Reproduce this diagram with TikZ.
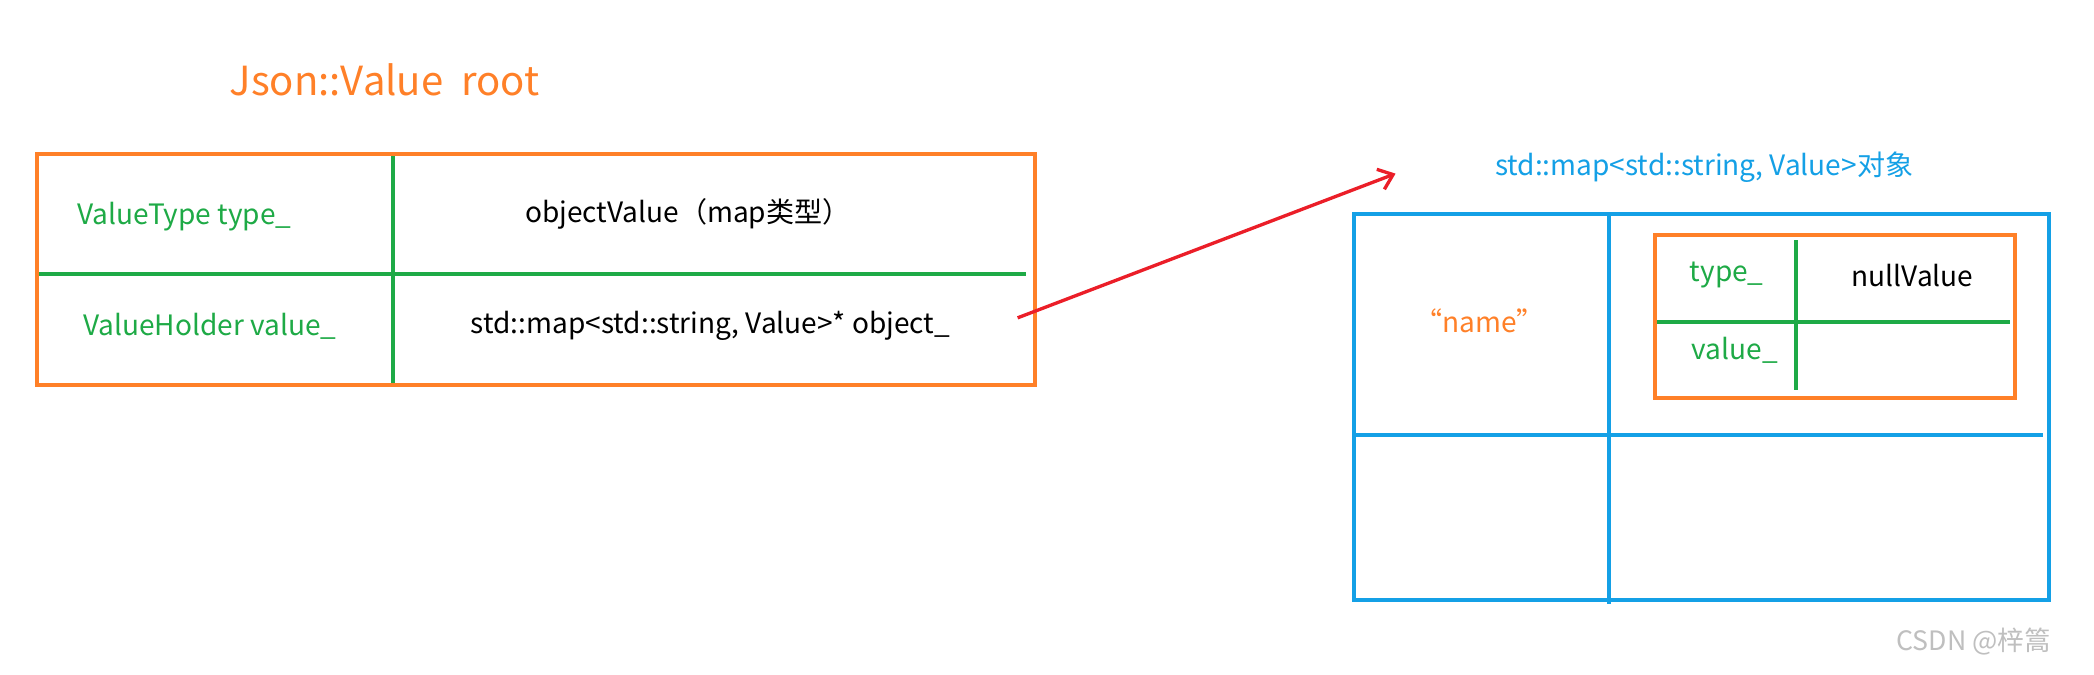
\documentclass[tikz,border=0pt]{standalone}
\usepackage{fontspec}
\usetikzlibrary{arrows.meta}
\setmainfont{Noto Sans CJK SC}
\definecolor{org}{RGB}{255,128,40}
\definecolor{grn}{RGB}{30,170,70}
\definecolor{blu}{RGB}{20,160,230}
\definecolor{rd}{RGB}{235,30,40}
\begin{document}
\begin{tikzpicture}[x=1pt,y=-1pt,
  txt/.style={inner sep=0pt,font=\fontsize{21}{24}\selectfont},
  ob/.style={draw=org,line width=3pt},
  gl/.style={draw=grn,line width=3pt},
  bl/.style={draw=blu,line width=3pt}]
\useasboundingbox[fill=white] (0,0) rectangle (1568,505);
\node[txt,text=org,font=\fontsize{30}{34}\selectfont] (title) at (288,60) {Json::Value\ \ root};
% left table
\draw[gl] (294,115) -- (294,288);
\draw[gl] (28,205) -- (768,205);
\draw[ob] (28,115) rectangle (775,288);
\node[txt,text=grn] (t1) at (138,162) {ValueType type\_};
\node[txt] (t2) at (515,160) {objectValue（map类型）};
\node[txt,text=grn] (t3) at (157,244) {ValueHolder value\_};
\node[txt] (t4) at (532,244) {std::map<std::string, Value>* object\_};
% label
\node[txt,text=blu] (lbl) at (1276,125) {std::map<std::string, Value>对象};
% right table
\draw[bl] (1205,160) -- (1205,452);
\draw[bl] (1014,326) -- (1530,326);
\draw[bl] (1014,160) rectangle (1534,449);
\node[txt,text=org] (nm) at (1108,240) {“name”};
\draw[gl] (1345,180) -- (1345,292);
\draw[gl] (1241,241) -- (1505,241);
\draw[ob] (1239,176) rectangle (1509,298);
\node[txt,text=grn] (ty) at (1293,206) {type\_};
\node[txt] (nv) at (1432,206) {nullValue};
\node[txt,text=grn] (vl) at (1299,262) {value\_};
\coordinate (as) at (762,238);
\coordinate (ae) at (1045,130);
\draw[rd,line width=2.5pt,-{Straight Barb[length=10pt,width=16pt]}] (as) -- (ae);
\node[txt,text=black!25,font=\fontsize{20}{24}\selectfont] (wm) at (1478,480) {CSDN @梓篙};
\end{tikzpicture}
\end{document}
